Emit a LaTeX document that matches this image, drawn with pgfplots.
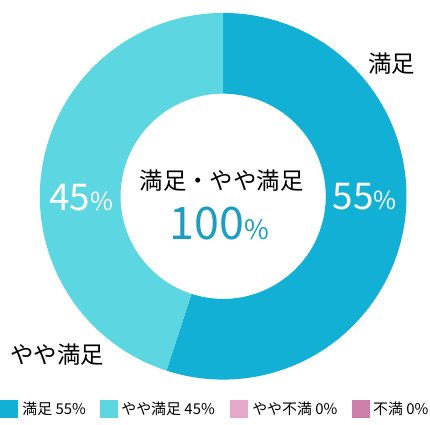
\documentclass[border=0pt]{standalone}
\usepackage{pgfplots}
\usepackage{pgfplotstable}
\usepackage{fontspec}
\setmainfont{Noto Sans CJK JP}
\pgfplotsset{compat=1.18}

\definecolor{manzoku}{HTML}{12B0D4}
\definecolor{yaya}{HTML}{5CD6E0}
\definecolor{yayafuman}{HTML}{E4A9CA}
\definecolor{fuman}{HTML}{CC80A9}
\definecolor{centre}{HTML}{1B9EC2}

% share of answers, percent
\pgfplotstableread{
idx value
0 55
1 45
2 0
3 0
}\shares

\begin{document}
\begin{tikzpicture}
\pgfplotstablegetelem{0}{value}\of\shares \pgfmathsetmacro{\va}{\pgfplotsretval}
\pgfplotstablegetelem{1}{value}\of\shares \pgfmathsetmacro{\vb}{\pgfplotsretval}
\pgfmathsetmacro{\aA}{90-3.6*\va}
\pgfmathsetmacro{\aB}{\aA-3.6*\vb}
\begin{axis}[
    width=430bp, height=426bp, scale only axis,
    xmin=0, xmax=430, ymin=0, ymax=426,
    hide axis, clip=false,
    legend columns=4,
    legend image code/.code={\fill[#1] (0bp,-8.5bp) rectangle (17bp,8.5bp);},
    legend style={at={(axis cs:0,16)}, anchor=west, draw=none, fill=none,
        inner sep=0pt, outer sep=0pt, column sep=0pt,
        nodes={inner sep=0pt, outer sep=0pt, text depth=0pt},
        font=\fontsize{15bp}{18bp}\selectfont},
]
\path (axis cs:0,0) rectangle (axis cs:430,426);

% donut segments, clockwise from the top
\fill[manzoku] (axis cs:224,229) ++(90:184bp) arc[start angle=90, end angle=\aA, radius=184bp]
    -- ([shift={(\aA:103bp)}]axis cs:224,229) arc[start angle=\aA, end angle=90, radius=103bp] -- cycle;
\fill[yaya] (axis cs:224,229) ++(\aA:184bp) arc[start angle=\aA, end angle=\aB, radius=184bp]
    -- ([shift={(\aB:103bp)}]axis cs:224,229) arc[start angle=\aB, end angle=\aA, radius=103bp] -- cycle;

\addlegendimage{manzoku}
\addlegendentry{\makebox[83bp][l]{\hspace{5bp}満足 55\%}}
\addlegendimage{yaya}
\addlegendentry{\makebox[113bp][l]{\hspace{4bp}やや満足 45\%}}
\addlegendimage{yayafuman}
\addlegendentry{\makebox[105bp][l]{\hspace{5bp}やや不満 0\%}}
\addlegendimage{fuman}
\addlegendentry{\makebox[61bp][l]{\hspace{4bp}不満 0\%}}

% labels
\node[font=\fontsize{23.5bp}{28bp}\selectfont] at (axis cs:393,362) {満足};
\node[font=\fontsize{23.5bp}{28bp}\selectfont] at (axis cs:57.5,70) {やや満足};
\node[white] at (axis cs:366,229) {\fontsize{37bp}{40bp}\selectfont 55\fontsize{25bp}{30bp}\selectfont\%};
\node[white] at (axis cs:81.5,228) {\fontsize{37bp}{40bp}\selectfont 45\fontsize{25bp}{30bp}\selectfont\%};
\node[font=\fontsize{23.5bp}{28bp}\selectfont] at (axis cs:222.5,244.5) {満足・やや満足};
\node[centre] at (axis cs:220,201.5) {\fontsize{45bp}{50bp}\selectfont 100\fontsize{27bp}{30bp}\selectfont\%};
\end{axis}
\end{tikzpicture}
\end{document}
